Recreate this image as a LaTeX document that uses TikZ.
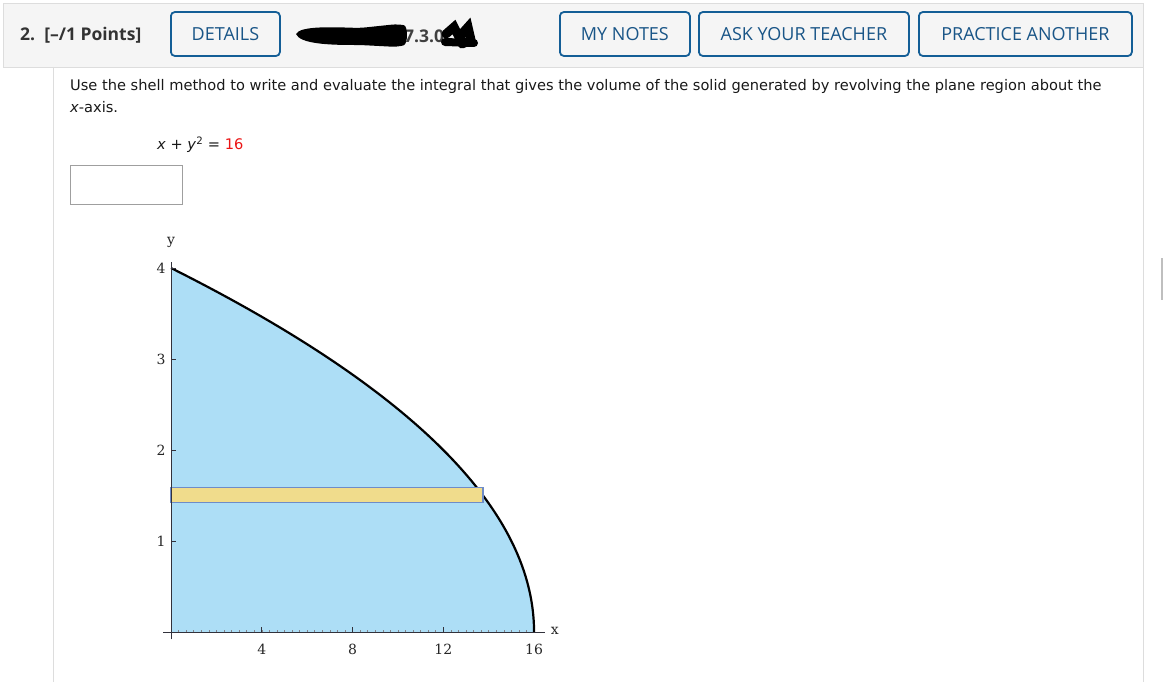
\documentclass[tikz,border=0pt]{standalone}
\usepackage{fontspec}
\setmainfont{DejaVu Sans}
\newfontfamily\headfont{Open Sans}
\newfontfamily\plotfont{DejaVu Serif}
\definecolor{btnblue}{RGB}{20,94,150}
\definecolor{btntext}{RGB}{25,85,135}
\definecolor{headgray}{RGB}{245,245,245}
\definecolor{linegray}{RGB}{221,221,221}
\definecolor{regionblue}{RGB}{173,222,246}
\definecolor{stripyellow}{RGB}{240,220,140}
\definecolor{stripedge}{RGB}{110,140,200}
\definecolor{eqred}{RGB}{235,20,20}
\definecolor{axisgray}{RGB}{50,50,60}
\tikzset{
  button/.style={draw=btnblue, line width=1.8pt, rounded corners=4pt, text=btntext,
    font=\headfont\fontsize{18}{20}\selectfont, inner sep=0pt, minimum height=44pt, anchor=west},
  ticklabel/.style={font=\plotfont\fontsize{14}{16}\selectfont, text=black!85, inner sep=0pt},
  bodytext/.style={font=\fontsize{14.6}{17}\selectfont, text=black!90, inner sep=0pt, anchor=west},
}
\begin{document}
\begin{tikzpicture}[x=1pt,y=-1pt]
  \useasboundingbox[fill=white] (0,0) rectangle (1164,682);

  % header bar and panel
  \draw[linegray, fill=headgray] (3,3) rectangle (1143,67);
  \draw[linegray] (53,67) -- (53,682);
  \draw[linegray] (1143,67) -- (1143,682);
  \draw[gray!50, line width=1.5pt] (1162,258) -- (1162,300);

  \node[anchor=west, inner sep=0pt, text=black!80, font=\headfont\bfseries\fontsize{17.5}{20}\selectfont] (qnum) at (20,35) {2.\ \ [–/1 Points]};
  \node[button, minimum width=109pt] (details) at (170,34) {DETAILS};
  \node[anchor=west, inner sep=0pt, text=black!75, font=\headfont\bfseries\fontsize{17.5}{20}\selectfont] (secnum) at (404,36) {7.3.0};
  % redaction scribbles
  \fill[black, rounded corners=6pt] (296,34) .. controls (300,26) and (330,27) .. (360,28)
    -- (398,24) .. controls (408,26) and (408,44) .. (398,47) -- (360,45)
    .. controls (330,45) and (300,44) .. (296,34);
  \draw[black, line width=9pt, line cap=round] (446,34) -- (454,27) -- (459,37) -- (468,27) -- (471,40) -- (462,44);
  \draw[black, line width=8pt, line cap=round] (445,42) -- (474,43);

  \node[button, minimum width=130pt] (notes) at (559,34) {MY NOTES};
  \node[button, minimum width=210pt] (teacher) at (698,34) {ASK YOUR TEACHER};
  \node[button, minimum width=213pt] (practice) at (918,34) {PRACTICE ANOTHER};

  % question text
  \node[bodytext] (prompt) at (70,86) {Use the shell method to write and evaluate the integral that gives the volume of the solid generated by revolving the plane region about the};
  \node[bodytext] (prompt2) at (70,107) {\textit{x}-axis.};
  \node[bodytext] (equation) at (157,145) {\textit{x} + \textit{y}\textsuperscript{2} = \textcolor{eqred}{16}};
  \node[draw=gray!75, line width=1pt, minimum width=112pt, minimum height=39pt, anchor=north west, inner sep=0pt] (answer) at (70,165) {};

  % graph
  \begin{scope}[shift={(171,632)}, x=22.69pt, y=91pt]
    \fill[regionblue] (0,0) -- (0,4) -- plot[variable=\t, domain=4:0, samples=80, smooth] ({16-\t*\t},\t) -- cycle;
    \draw[line width=2.2pt] plot[variable=\t, domain=4:0, samples=80, smooth] ({16-\t*\t},\t);
    \draw[fill=stripyellow, draw=stripedge, line width=1.2pt] (0,1.42) rectangle (13.75,1.585);
    \draw[axisgray, line width=1pt] (-0.35,0) -- (16.5,0);
    \draw[axisgray, line width=1pt] (0,-0.08) -- (0,4.07);
    \foreach \i in {1,...,47}
      \draw[axisgray!60, line width=0.5pt] (\i/3,0) -- (\i/3,0.02);
    \foreach \v in {4,8,12}
      \draw[axisgray, line width=0.8pt] (\v,0) -- (\v,0.06);
    \foreach \v in {1,2,3,4}
      \draw[axisgray, line width=0.8pt] (0,\v) -- (0.2,\v);
    \foreach \v in {4,8,12,16}
      \node[ticklabel] (xl\v) at (\v,-0.187) {\v};
    \foreach \v in {1,2,3,4}
      \node[ticklabel] (yl\v) at (-0.44,\v) {\v};
    \node[ticklabel] (xname) at (16.92,0.01) {x};
    \node[ticklabel] (yname) at (0,4.28) {y};
  \end{scope}
\end{tikzpicture}
\end{document}
